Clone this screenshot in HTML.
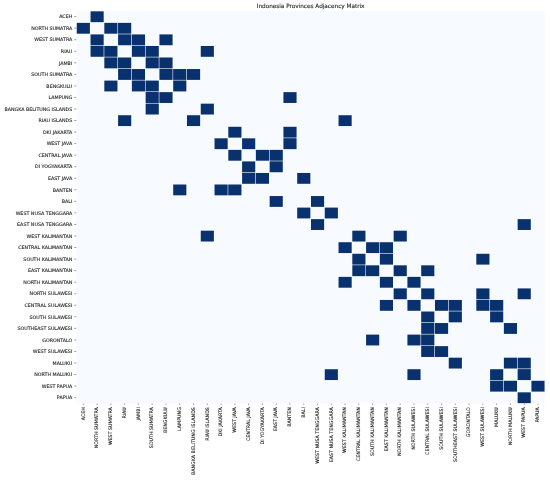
<!DOCTYPE html>
<html><head><meta charset="utf-8"><title>Indonesia Provinces Adjacency Matrix</title>
<style>html,body{margin:0;padding:0;background:#fff}svg{display:block}text{font-family:"DejaVu Sans","Liberation Sans",sans-serif;fill:#262626;stroke:#262626;stroke-width:0.12px}</style></head><body>
<svg width="550" height="481" viewBox="0 0 550 481">
<rect width="550" height="481" fill="#fff"/>
<rect x="76.40" y="10.85" width="468.44" height="392.55" fill="#f7fbff"/>
<g fill="#09316e">
<rect x="90.54" y="11.32" width="13.14" height="10.83"/>
<rect x="76.76" y="22.87" width="13.14" height="10.83"/>
<rect x="104.32" y="22.87" width="13.13" height="10.83"/>
<rect x="118.02" y="22.87" width="13.21" height="10.84"/>
<rect x="90.54" y="34.41" width="13.14" height="10.84"/>
<rect x="118.09" y="34.28" width="13.13" height="10.96"/>
<rect x="131.80" y="34.41" width="13.21" height="10.84"/>
<rect x="159.43" y="34.41" width="13.14" height="10.83"/>
<rect x="90.54" y="45.83" width="13.13" height="10.96"/>
<rect x="104.25" y="45.96" width="13.21" height="10.84"/>
<rect x="131.87" y="45.83" width="13.13" height="10.96"/>
<rect x="145.58" y="45.96" width="13.21" height="10.84"/>
<rect x="200.76" y="45.96" width="13.14" height="10.83"/>
<rect x="104.32" y="57.37" width="13.13" height="10.96"/>
<rect x="118.02" y="57.50" width="13.21" height="10.84"/>
<rect x="145.65" y="57.37" width="13.13" height="10.96"/>
<rect x="159.36" y="57.50" width="13.21" height="10.84"/>
<rect x="118.09" y="68.92" width="13.13" height="10.96"/>
<rect x="131.80" y="69.05" width="13.21" height="10.84"/>
<rect x="159.43" y="68.92" width="13.13" height="10.96"/>
<rect x="173.13" y="69.05" width="13.20" height="10.84"/>
<rect x="186.91" y="69.05" width="13.21" height="10.83"/>
<rect x="104.32" y="80.59" width="13.14" height="10.83"/>
<rect x="131.87" y="80.46" width="13.13" height="10.96"/>
<rect x="145.58" y="80.59" width="13.21" height="10.84"/>
<rect x="173.20" y="80.46" width="13.14" height="10.96"/>
<rect x="145.65" y="92.01" width="13.13" height="10.97"/>
<rect x="159.36" y="92.14" width="13.21" height="10.83"/>
<rect x="283.42" y="92.14" width="13.14" height="10.83"/>
<rect x="145.65" y="103.55" width="13.14" height="10.96"/>
<rect x="200.76" y="103.68" width="13.14" height="10.83"/>
<rect x="118.09" y="115.23" width="13.14" height="10.83"/>
<rect x="186.98" y="115.23" width="13.14" height="10.83"/>
<rect x="338.54" y="115.23" width="13.14" height="10.83"/>
<rect x="228.31" y="126.78" width="13.14" height="10.83"/>
<rect x="283.42" y="126.78" width="13.14" height="10.84"/>
<rect x="214.54" y="138.32" width="13.14" height="10.83"/>
<rect x="242.09" y="138.32" width="13.14" height="10.83"/>
<rect x="283.42" y="138.19" width="13.14" height="10.96"/>
<rect x="228.31" y="149.87" width="13.14" height="10.83"/>
<rect x="255.87" y="149.87" width="13.13" height="10.83"/>
<rect x="269.58" y="149.87" width="13.21" height="10.84"/>
<rect x="242.09" y="161.41" width="13.14" height="10.84"/>
<rect x="269.65" y="161.28" width="13.14" height="10.96"/>
<rect x="242.09" y="172.83" width="13.13" height="10.96"/>
<rect x="255.80" y="172.96" width="13.21" height="10.83"/>
<rect x="297.20" y="172.96" width="13.14" height="10.83"/>
<rect x="173.20" y="184.50" width="13.14" height="10.83"/>
<rect x="214.54" y="184.50" width="13.13" height="10.83"/>
<rect x="228.24" y="184.50" width="13.21" height="10.83"/>
<rect x="269.65" y="196.05" width="13.14" height="10.83"/>
<rect x="310.98" y="196.05" width="13.14" height="10.83"/>
<rect x="297.20" y="207.59" width="13.14" height="10.83"/>
<rect x="324.76" y="207.59" width="13.14" height="10.83"/>
<rect x="310.98" y="219.14" width="13.14" height="10.83"/>
<rect x="517.64" y="219.14" width="13.14" height="10.83"/>
<rect x="200.76" y="230.69" width="13.14" height="10.83"/>
<rect x="352.31" y="230.69" width="13.14" height="10.83"/>
<rect x="393.65" y="230.69" width="13.14" height="10.83"/>
<rect x="338.54" y="242.23" width="13.14" height="10.83"/>
<rect x="366.09" y="242.23" width="13.13" height="10.83"/>
<rect x="379.80" y="242.23" width="13.21" height="10.84"/>
<rect x="352.31" y="253.78" width="13.14" height="10.84"/>
<rect x="379.87" y="253.65" width="13.14" height="10.96"/>
<rect x="476.31" y="253.78" width="13.14" height="10.83"/>
<rect x="352.31" y="265.19" width="13.13" height="10.96"/>
<rect x="366.02" y="265.32" width="13.21" height="10.83"/>
<rect x="393.65" y="265.32" width="13.14" height="10.83"/>
<rect x="421.20" y="265.32" width="13.14" height="10.83"/>
<rect x="338.54" y="276.87" width="13.14" height="10.83"/>
<rect x="379.87" y="276.87" width="13.14" height="10.83"/>
<rect x="407.42" y="276.87" width="13.14" height="10.83"/>
<rect x="393.65" y="288.41" width="13.14" height="10.83"/>
<rect x="421.20" y="288.41" width="13.14" height="10.83"/>
<rect x="476.31" y="288.41" width="13.14" height="10.84"/>
<rect x="517.64" y="288.41" width="13.14" height="10.83"/>
<rect x="379.87" y="299.96" width="13.14" height="10.83"/>
<rect x="407.42" y="299.96" width="13.14" height="10.83"/>
<rect x="434.98" y="299.96" width="13.13" height="10.83"/>
<rect x="448.69" y="299.96" width="13.21" height="10.84"/>
<rect x="476.31" y="299.83" width="13.13" height="10.96"/>
<rect x="490.02" y="299.96" width="13.21" height="10.84"/>
<rect x="421.20" y="311.51" width="13.14" height="10.84"/>
<rect x="448.76" y="311.38" width="13.14" height="10.96"/>
<rect x="490.09" y="311.38" width="13.14" height="10.96"/>
<rect x="421.20" y="322.92" width="13.13" height="10.97"/>
<rect x="434.91" y="323.05" width="13.21" height="10.83"/>
<rect x="503.87" y="323.05" width="13.14" height="10.83"/>
<rect x="366.09" y="334.60" width="13.14" height="10.83"/>
<rect x="407.42" y="334.60" width="13.13" height="10.83"/>
<rect x="421.13" y="334.47" width="13.21" height="10.97"/>
<rect x="421.20" y="346.01" width="13.13" height="10.96"/>
<rect x="434.91" y="346.14" width="13.21" height="10.83"/>
<rect x="448.76" y="357.69" width="13.14" height="10.83"/>
<rect x="503.87" y="357.69" width="13.13" height="10.83"/>
<rect x="517.57" y="357.69" width="13.21" height="10.84"/>
<rect x="324.76" y="369.23" width="13.14" height="10.83"/>
<rect x="407.42" y="369.23" width="13.14" height="10.83"/>
<rect x="490.09" y="369.23" width="13.14" height="10.84"/>
<rect x="517.64" y="369.10" width="13.14" height="10.96"/>
<rect x="490.09" y="380.65" width="13.13" height="10.96"/>
<rect x="503.80" y="380.78" width="13.21" height="10.83"/>
<rect x="531.42" y="380.78" width="13.14" height="10.83"/>
<rect x="517.64" y="392.32" width="13.14" height="10.83"/>
</g>
<g stroke="#262626" stroke-width="0.4">
<line x1="74.13" y1="16.62" x2="76.40" y2="16.62"/>
<line x1="74.13" y1="28.17" x2="76.40" y2="28.17"/>
<line x1="74.13" y1="39.71" x2="76.40" y2="39.71"/>
<line x1="74.13" y1="51.26" x2="76.40" y2="51.26"/>
<line x1="74.13" y1="62.81" x2="76.40" y2="62.81"/>
<line x1="74.13" y1="74.35" x2="76.40" y2="74.35"/>
<line x1="74.13" y1="85.90" x2="76.40" y2="85.90"/>
<line x1="74.13" y1="97.44" x2="76.40" y2="97.44"/>
<line x1="74.13" y1="108.99" x2="76.40" y2="108.99"/>
<line x1="74.13" y1="120.53" x2="76.40" y2="120.53"/>
<line x1="74.13" y1="132.08" x2="76.40" y2="132.08"/>
<line x1="74.13" y1="143.62" x2="76.40" y2="143.62"/>
<line x1="74.13" y1="155.17" x2="76.40" y2="155.17"/>
<line x1="74.13" y1="166.72" x2="76.40" y2="166.72"/>
<line x1="74.13" y1="178.26" x2="76.40" y2="178.26"/>
<line x1="74.13" y1="189.81" x2="76.40" y2="189.81"/>
<line x1="74.13" y1="201.35" x2="76.40" y2="201.35"/>
<line x1="74.13" y1="212.90" x2="76.40" y2="212.90"/>
<line x1="74.13" y1="224.44" x2="76.40" y2="224.44"/>
<line x1="74.13" y1="235.99" x2="76.40" y2="235.99"/>
<line x1="74.13" y1="247.53" x2="76.40" y2="247.53"/>
<line x1="74.13" y1="259.08" x2="76.40" y2="259.08"/>
<line x1="74.13" y1="270.63" x2="76.40" y2="270.63"/>
<line x1="74.13" y1="282.17" x2="76.40" y2="282.17"/>
<line x1="74.13" y1="293.72" x2="76.40" y2="293.72"/>
<line x1="74.13" y1="305.26" x2="76.40" y2="305.26"/>
<line x1="74.13" y1="316.81" x2="76.40" y2="316.81"/>
<line x1="74.13" y1="328.35" x2="76.40" y2="328.35"/>
<line x1="74.13" y1="339.90" x2="76.40" y2="339.90"/>
<line x1="74.13" y1="351.44" x2="76.40" y2="351.44"/>
<line x1="74.13" y1="362.99" x2="76.40" y2="362.99"/>
<line x1="74.13" y1="374.54" x2="76.40" y2="374.54"/>
<line x1="74.13" y1="386.08" x2="76.40" y2="386.08"/>
<line x1="74.13" y1="397.63" x2="76.40" y2="397.63"/>
<line x1="83.29" y1="403.40" x2="83.29" y2="405.07"/>
<line x1="97.07" y1="403.40" x2="97.07" y2="405.07"/>
<line x1="110.84" y1="403.40" x2="110.84" y2="405.07"/>
<line x1="124.62" y1="403.40" x2="124.62" y2="405.07"/>
<line x1="138.40" y1="403.40" x2="138.40" y2="405.07"/>
<line x1="152.18" y1="403.40" x2="152.18" y2="405.07"/>
<line x1="165.95" y1="403.40" x2="165.95" y2="405.07"/>
<line x1="179.73" y1="403.40" x2="179.73" y2="405.07"/>
<line x1="193.51" y1="403.40" x2="193.51" y2="405.07"/>
<line x1="207.29" y1="403.40" x2="207.29" y2="405.07"/>
<line x1="221.07" y1="403.40" x2="221.07" y2="405.07"/>
<line x1="234.84" y1="403.40" x2="234.84" y2="405.07"/>
<line x1="248.62" y1="403.40" x2="248.62" y2="405.07"/>
<line x1="262.40" y1="403.40" x2="262.40" y2="405.07"/>
<line x1="276.18" y1="403.40" x2="276.18" y2="405.07"/>
<line x1="289.95" y1="403.40" x2="289.95" y2="405.07"/>
<line x1="303.73" y1="403.40" x2="303.73" y2="405.07"/>
<line x1="317.51" y1="403.40" x2="317.51" y2="405.07"/>
<line x1="331.29" y1="403.40" x2="331.29" y2="405.07"/>
<line x1="345.06" y1="403.40" x2="345.06" y2="405.07"/>
<line x1="358.84" y1="403.40" x2="358.84" y2="405.07"/>
<line x1="372.62" y1="403.40" x2="372.62" y2="405.07"/>
<line x1="386.40" y1="403.40" x2="386.40" y2="405.07"/>
<line x1="400.17" y1="403.40" x2="400.17" y2="405.07"/>
<line x1="413.95" y1="403.40" x2="413.95" y2="405.07"/>
<line x1="427.73" y1="403.40" x2="427.73" y2="405.07"/>
<line x1="441.51" y1="403.40" x2="441.51" y2="405.07"/>
<line x1="455.29" y1="403.40" x2="455.29" y2="405.07"/>
<line x1="469.06" y1="403.40" x2="469.06" y2="405.07"/>
<line x1="482.84" y1="403.40" x2="482.84" y2="405.07"/>
<line x1="496.62" y1="403.40" x2="496.62" y2="405.07"/>
<line x1="510.40" y1="403.40" x2="510.40" y2="405.07"/>
<line x1="524.17" y1="403.40" x2="524.17" y2="405.07"/>
<line x1="537.95" y1="403.40" x2="537.95" y2="405.07"/>
</g>
<text x="310.62" y="8.25" font-size="5.73" text-anchor="middle">Indonesia Provinces Adjacency Matrix</text>
<g font-size="4.78" text-anchor="end">
<text x="72.31" y="18.37">ACEH</text>
<text x="72.31" y="29.91">NORTH SUMATRA</text>
<text x="72.31" y="41.46">WEST SUMATRA</text>
<text x="72.31" y="53.00">RIAU</text>
<text x="72.31" y="64.55">JAMBI</text>
<text x="72.31" y="76.09">SOUTH SUMATRA</text>
<text x="72.31" y="87.64">BENGKULU</text>
<text x="72.31" y="99.18">LAMPUNG</text>
<text x="72.31" y="110.73">BANGKA BELITUNG ISLANDS</text>
<text x="72.31" y="122.28">RIAU ISLANDS</text>
<text x="72.31" y="133.82">DKI JAKARTA</text>
<text x="72.31" y="145.37">WEST JAVA</text>
<text x="72.31" y="156.91">CENTRAL JAVA</text>
<text x="72.31" y="168.46">DI YOGYAKARTA</text>
<text x="72.31" y="180.00">EAST JAVA</text>
<text x="72.31" y="191.55">BANTEN</text>
<text x="72.31" y="203.10">BALI</text>
<text x="72.31" y="214.64">WEST NUSA TENGGARA</text>
<text x="72.31" y="226.19">EAST NUSA TENGGARA</text>
<text x="72.31" y="237.73">WEST KALIMANTAN</text>
<text x="72.31" y="249.28">CENTRAL KALIMANTAN</text>
<text x="72.31" y="260.82">SOUTH KALIMANTAN</text>
<text x="72.31" y="272.37">EAST KALIMANTAN</text>
<text x="72.31" y="283.91">NORTH KALIMANTAN</text>
<text x="72.31" y="295.46">NORTH SULAWESI</text>
<text x="72.31" y="307.01">CENTRAL SULAWESI</text>
<text x="72.31" y="318.55">SOUTH SULAWESI</text>
<text x="72.31" y="330.10">SOUTHEAST SULAWESI</text>
<text x="72.31" y="341.64">GORONTALO</text>
<text x="72.31" y="353.19">WEST SULAWESI</text>
<text x="72.31" y="364.73">MALUKU</text>
<text x="72.31" y="376.28">NORTH MALUKU</text>
<text x="72.31" y="387.82">WEST PAPUA</text>
<text x="72.31" y="399.37">PAPUA</text>
</g>
<g font-size="4.78" text-anchor="end">
<text transform="translate(84.53,407.14) rotate(-90)">ACEH</text>
<text transform="translate(98.31,407.14) rotate(-90)">NORTH SUMATRA</text>
<text transform="translate(112.09,407.14) rotate(-90)">WEST SUMATRA</text>
<text transform="translate(125.86,407.14) rotate(-90)">RIAU</text>
<text transform="translate(139.64,407.14) rotate(-90)">JAMBI</text>
<text transform="translate(153.42,407.14) rotate(-90)">SOUTH SUMATRA</text>
<text transform="translate(167.20,407.14) rotate(-90)">BENGKULU</text>
<text transform="translate(180.97,407.14) rotate(-90)">LAMPUNG</text>
<text transform="translate(194.75,407.14) rotate(-90)">BANGKA BELITUNG ISLANDS</text>
<text transform="translate(208.53,407.14) rotate(-90)">RIAU ISLANDS</text>
<text transform="translate(222.31,407.14) rotate(-90)">DKI JAKARTA</text>
<text transform="translate(236.08,407.14) rotate(-90)">WEST JAVA</text>
<text transform="translate(249.86,407.14) rotate(-90)">CENTRAL JAVA</text>
<text transform="translate(263.64,407.14) rotate(-90)">DI YOGYAKARTA</text>
<text transform="translate(277.42,407.14) rotate(-90)">EAST JAVA</text>
<text transform="translate(291.20,407.14) rotate(-90)">BANTEN</text>
<text transform="translate(304.97,407.14) rotate(-90)">BALI</text>
<text transform="translate(318.75,407.14) rotate(-90)">WEST NUSA TENGGARA</text>
<text transform="translate(332.53,407.14) rotate(-90)">EAST NUSA TENGGARA</text>
<text transform="translate(346.31,407.14) rotate(-90)">WEST KALIMANTAN</text>
<text transform="translate(360.08,407.14) rotate(-90)">CENTRAL KALIMANTAN</text>
<text transform="translate(373.86,407.14) rotate(-90)">SOUTH KALIMANTAN</text>
<text transform="translate(387.64,407.14) rotate(-90)">EAST KALIMANTAN</text>
<text transform="translate(401.42,407.14) rotate(-90)">NORTH KALIMANTAN</text>
<text transform="translate(415.19,407.14) rotate(-90)">NORTH SULAWESI</text>
<text transform="translate(428.97,407.14) rotate(-90)">CENTRAL SULAWESI</text>
<text transform="translate(442.75,407.14) rotate(-90)">SOUTH SULAWESI</text>
<text transform="translate(456.53,407.14) rotate(-90)">SOUTHEAST SULAWESI</text>
<text transform="translate(470.30,407.14) rotate(-90)">GORONTALO</text>
<text transform="translate(484.08,407.14) rotate(-90)">WEST SULAWESI</text>
<text transform="translate(497.86,407.14) rotate(-90)">MALUKU</text>
<text transform="translate(511.64,407.14) rotate(-90)">NORTH MALUKU</text>
<text transform="translate(525.42,407.14) rotate(-90)">WEST PAPUA</text>
<text transform="translate(539.19,407.14) rotate(-90)">PAPUA</text>
</g>
</svg></body></html>
